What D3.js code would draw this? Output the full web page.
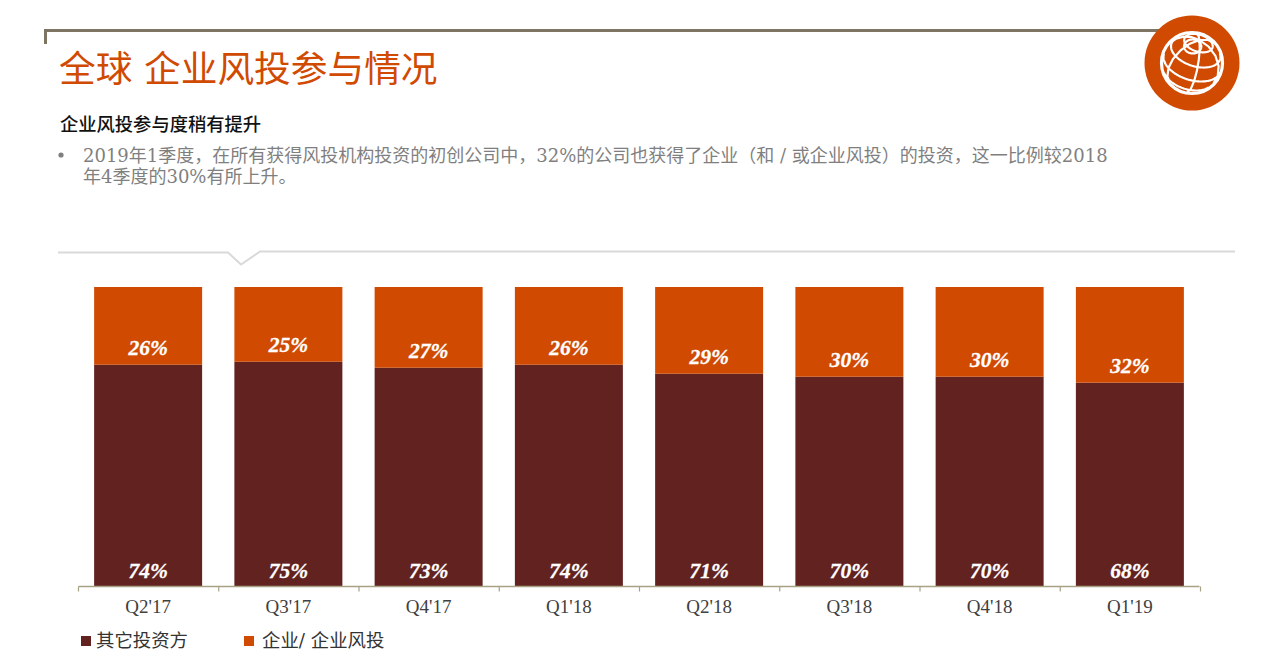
<!DOCTYPE html>
<html lang="zh-CN">
<head>
<meta charset="utf-8">
<title>全球 企业风投参与情况</title>
<script src="https://cdn.jsdelivr.net/npm/d3@7/dist/d3.min.js"></script>
<style>
  html, body { margin: 0; padding: 0; background: #fff; }
  svg { display: block; }
  text { font-family: "DejaVu Serif", "Noto Sans CJK SC", serif; }
</style>
</head>
<body>
<svg id="chart" width="1267" height="659"></svg>
<script>
// Quarterly share of funded start-ups, by investor type (percent)
const quarters = ["Q2'17", "Q3'17", "Q4'17", "Q1'18", "Q2'18", "Q3'18", "Q4'18", "Q1'19"];
const otherInvestors = [74, 75, 73, 74, 71, 70, 70, 68];
const corporateInvestors = [26, 25, 27, 26, 29, 30, 30, 32];
const seriesKeys = ["其它投资方", "企业/ 企业风投"];
const seriesColors = ["#612220", "#d04a02"];
const yDomain = [0, 100];

const titleText = "全球 企业风投参与情况";
const subtitleText = "企业风投参与度稍有提升";
const bulletLines = [
  "2019年1季度，在所有获得风投机构投资的初创公司中，32%的公司也获得了企业（和 / 或企业风投）的投资，这一比例较2018",
  "年4季度的30%有所上升。"
];

const svg = d3.select("#chart");
const orange = "#d04a02";
const frame = "#7d7561";

// Header frame
svg.append("path")
  .attr("d", d3.line()([[45.5, 44], [45.5, 30.5], [1165, 30.5]]))
  .attr("fill", "none").attr("stroke", frame).attr("stroke-width", 3);

svg.append("text").attr("x", 59).attr("y", 82)
  .attr("font-size", 36.7).attr("fill", orange).text(titleText);

svg.append("text").attr("x", 60).attr("y", 131)
  .attr("font-size", 18.3).attr("font-weight", 500).attr("fill", "#111").text(subtitleText);

svg.append("circle").attr("cx", 61).attr("cy", 155).attr("r", 2.6).attr("fill", "#7f7f7f");
svg.selectAll("text.bullet").data(bulletLines).join("text")
  .attr("class", "bullet")
  .attr("x", 83)
  .attr("y", (d, i) => 162 + i * 21)
  .attr("font-size", 18)
  .attr("fill", "#7f7f7f")
  .text(d => d);

// Globe badge
const badge = svg.append("g");
badge.append("circle").attr("cx", 1192).attr("cy", 63).attr("r", 47.5).attr("fill", orange);
const projection = d3.geoOrthographic()
  .scale(29.5).translate([1192, 63]).rotate([15, -35, -18]).clipAngle(90);
const geoPath = d3.geoPath(projection);
badge.append("path")
  .datum(d3.geoGraticule().step([60, 30]).extentMinor([[-180, -80], [180, 60.01]]).stepMajor([60, 30])())
  .attr("d", geoPath).attr("fill", "none").attr("stroke", "#fff").attr("stroke-width", 2.2);
badge.append("path")
  .datum(d3.geoCircle().center([-40, 68]).radius(17)())
  .attr("d", geoPath).attr("fill", "none").attr("stroke", "#fff").attr("stroke-width", 2.2);
badge.append("circle").attr("cx", 1192).attr("cy", 63).attr("r", 30.5)
  .attr("fill", "none").attr("stroke", "#fff").attr("stroke-width", 3.2);

// Callout rule above the bars
svg.append("path")
  .attr("d", d3.line()([[58, 252.5], [228, 252.5], [241, 264.5], [260, 251.5], [1235, 251.5]]))
  .attr("fill", "none").attr("stroke", "#d9d9d9").attr("stroke-width", 2);

// Stacked bars
const x = d3.scaleBand().domain(quarters).range([78, 1200]).paddingInner(0.23).paddingOuter(0.115);
const y = d3.scaleLinear().domain(yDomain).range([586, 287]);

const rows = quarters.map((q, i) => ({
  quarter: q,
  [seriesKeys[0]]: otherInvestors[i],
  [seriesKeys[1]]: corporateInvestors[i]
}));
const stacked = d3.stack().keys(seriesKeys)(rows);

svg.selectAll("g.series").data(stacked).join("g")
  .attr("class", "series")
  .attr("fill", (d, i) => seriesColors[i])
  .selectAll("rect").data(d => d).join("rect")
  .attr("x", d => x(d.data.quarter))
  .attr("y", d => y(d[1]))
  .attr("width", x.bandwidth())
  .attr("height", d => y(d[0]) - y(d[1]));

// Value labels: corporate share sits just above the boundary, the rest at the foot
const labelStyle = sel => sel
  .attr("text-anchor", "middle")
  .style("font-family", "'Liberation Serif', serif")
  .attr("font-size", 21.5)
  .attr("font-weight", "bold")
  .attr("font-style", "italic")
  .attr("stroke", "#fff")
  .attr("stroke-width", 0.3)
  .attr("fill", "#fff");

svg.selectAll("text.corp").data(stacked[1]).join("text")
  .attr("class", "corp").call(labelStyle)
  .attr("x", d => x(d.data.quarter) + x.bandwidth() / 2)
  .attr("y", d => y(d[0]) - 9.5)
  .text(d => `${d[1] - d[0]}%`);

svg.selectAll("text.other").data(stacked[0]).join("text")
  .attr("class", "other").call(labelStyle)
  .attr("x", d => x(d.data.quarter) + x.bandwidth() / 2)
  .attr("y", 578)
  .text(d => `${d[1] - d[0]}%`);

// Category axis with ticks on the band edges
const axisG = svg.append("g").attr("transform", "translate(0,586.5)");
axisG.call(d3.axisBottom(x).tickSize(0).tickPadding(13))
  .call(g => g.select(".domain").attr("d", "M78.5,0H1199.5").attr("stroke", "#a8a285").attr("stroke-width", 1.5))
  .call(g => g.selectAll("text").attr("font-size", 19).attr("fill", "#404040")
    .style("font-family", "'Liberation Serif', serif"));
axisG.selectAll("line.edge").data(d3.range(quarters.length + 1)).join("line")
  .attr("class", "edge")
  .attr("x1", i => 78.5 + i * x.step()).attr("x2", i => 78.5 + i * x.step())
  .attr("y1", 0).attr("y2", 5)
  .attr("stroke", "#a8a285").attr("stroke-width", 1.2);

// Legend
const legendX = [81, 244];
const legend = svg.selectAll("g.legend").data(seriesKeys).join("g")
  .attr("class", "legend")
  .attr("transform", (d, i) => `translate(${legendX[i]},636)`);
legend.append("rect").attr("width", 10).attr("height", 10).attr("fill", (d, i) => seriesColors[i]);
legend.append("text")
  .attr("x", (d, i) => i ? 18 : 15).attr("y", 10.5)
  .attr("font-size", 18.4).attr("fill", "#333").text(d => d);
</script>
</body>
</html>
